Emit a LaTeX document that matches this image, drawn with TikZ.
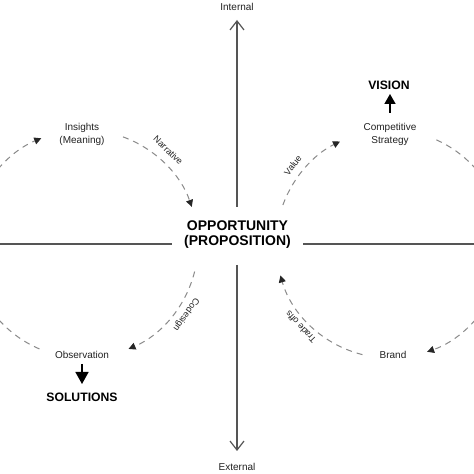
\documentclass[tikz,border=0pt]{standalone}
\usepackage{fontspec}
\setmainfont{Liberation Sans}
\usetikzlibrary{arrows.meta,calc}
\definecolor{axisgray}{HTML}{555555}
\definecolor{dashgray}{HTML}{8A8A8A}
\definecolor{txt}{HTML}{222222}
\begin{document}
\begin{tikzpicture}[x=1pt,y=1pt,
  axisline/.style={draw=axisgray,line width=1.3pt},
  axisarrow/.style={axisline,-{Straight Barb[length=9pt,width=14pt,line width=1.2pt]}},
  cycle/.style={draw=dashgray,line width=1pt,dash pattern=on 6pt off 5pt,
    -{Triangle[length=7pt,width=7pt,fill=black!85,color=black!85]}},
  cyclenoarrow/.style={draw=dashgray,line width=1pt,dash pattern=on 6pt off 5pt},
  lbl/.style={text=txt,font=\fontsize{10}{12.5}\selectfont,align=center,inner sep=0pt},
  small/.style={text=txt,font=\fontsize{9}{10}\selectfont,inner sep=0pt},
  big/.style={text=black,font=\bfseries\fontsize{14}{15}\selectfont,align=center,inner sep=0pt},
  goal/.style={text=black,font=\bfseries\fontsize{12.2}{14}\selectfont,inner sep=0pt},
  goalarrow/.style={draw=black,line width=1.6pt,-{Triangle[length=10pt,width=11pt]}}
]
\useasboundingbox (0,0) rectangle (474,474);
\clip (0,0) rectangle (474,474);
\fill[white] (0,0) rectangle (474,474);

% centres
\coordinate (C1) at (84,230);
\coordinate (C2) at (390,230);

% axes
\node[lbl] (internal) at (237,467) {Internal};
\node[lbl] (external) at (237,7) {External};
\node[big] (opp) at (237.5,239.5) {OPPORTUNITY\\(PROPOSITION)};
\coordinate (vtop) at (237,454);
\coordinate (vtopstart) at (237,267);
\coordinate (vbot) at (237,23);
\coordinate (vbotstart) at (237,209);
\coordinate (hl0) at (0,230);
\coordinate (hl1) at (172,230);
\coordinate (hr0) at (303,230);
\coordinate (hr1) at (474,230);
\draw[axisarrow] (vtopstart) -- (vtop);
\draw[axisarrow] (vbotstart) -- (vbot);
\draw[axisline] (hl0) -- (hl1);
\draw[axisline] (hr0) -- (hr1);

% left cycle
\draw[cycle] ($(C1)+(150:114)$) arc[start angle=150,end angle=112,radius=114];
\draw[cycle] ($(C1)+(70:114)$) arc[start angle=70,end angle=19,radius=114];
\draw[cycle] ($(C1)+(-14:114)$) arc[start angle=-14,end angle=-67,radius=114];
\draw[cyclenoarrow] ($(C1)+(-113:114)$) arc[start angle=-113,end angle=-165,radius=114];

% right cycle
\draw[cycle] ($(C2)+(160:114)$) arc[start angle=160,end angle=116,radius=114];
\draw[cyclenoarrow] ($(C2)+(66:114)$) arc[start angle=66,end angle=20,radius=114];
\draw[cycle] ($(C2)+(-25:114)$) arc[start angle=-25,end angle=-71,radius=114];
\draw[cycle] ($(C2)+(-104:114)$) arc[start angle=-104,end angle=-164,radius=114];

% cycle labels
\node[lbl] (insights) at (82,339.5) {Insights\\(Meaning)};
\node[lbl] (compet) at (390,339.5) {Competitive\\Strategy};
\node[lbl] (observ) at (82,119) {Observation};
\node[lbl] (brand) at (393,119) {Brand};
\node[small,rotate=-44] (narr) at ($(C1)+(48:126)$) {Narrative};
\node[small,rotate=53] (value) at ($(C2)+(141:125)$) {Value};
\node[small,rotate=-125] (codes) at ($(C1)+(-34.6:124)$) {Codesign};
\node[small,rotate=133] (trade) at ($(C2)+(223:122)$) {Trade offs};

% goals
\node[goal] (vision) at (389,389) {VISION};
\node[goal] (solutions) at (82,77) {SOLUTIONS};
\coordinate (va) at (390,361);
\coordinate (vb) at (390,380);
\coordinate (sa) at (82,110);
\coordinate (sb) at (82,90);
\draw[goalarrow] (va) -- (vb);
\draw[goalarrow,-{Triangle[length=12pt,width=13pt]}] (sa) -- (sb);
\end{tikzpicture}
\end{document}
